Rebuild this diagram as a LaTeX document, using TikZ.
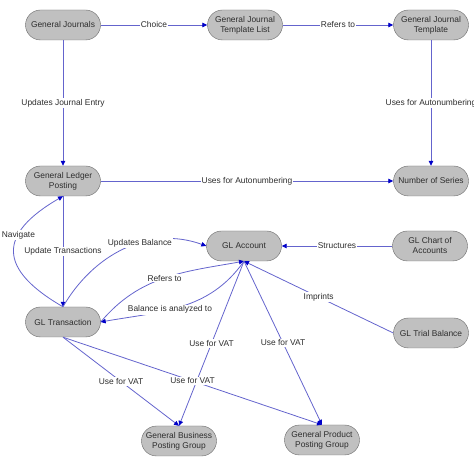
\documentclass[tikz,border=0pt]{standalone}
\usepackage{fontspec}
\setmainfont{Liberation Sans}
\usetikzlibrary{arrows.meta}

\definecolor{linkblue}{RGB}{100,100,205}
\definecolor{tipblue}{RGB}{0,0,200}
\definecolor{boxgray}{RGB}{192,192,192}
\definecolor{rimgray}{RGB}{105,105,105}
\definecolor{textgray}{RGB}{45,45,45}

\begin{document}
\begin{tikzpicture}[
    x=1pt, y=1pt,
    entity/.style={
        draw=rimgray,
        fill=boxgray,
        rounded corners=15pt,
        minimum width=75pt,
        minimum height=30pt,
        align=center,
        inner sep=1pt,
        text=textgray,
        font=\fontsize{8.4}{10}\selectfont,
    },
    link/.style={
        draw=linkblue,
        line width=0.8pt,
        -{Triangle[length=5pt,width=4.5pt,color=tipblue]},
    },
    tag/.style={
        fill=white,
        inner sep=1pt,
        text=textgray,
        font=\fontsize{8.4}{10}\selectfont,
    }
]
    \useasboundingbox (0,0) rectangle (474,474);

    % Entities
    \node[entity] (gj)   at (63,449)  {General Journals};
    \node[entity] (gjtl) at (245,449) {General Journal\\Template List};
    \node[entity] (gjt)  at (431,449) {General Journal\\Template};
    \node[entity] (glp)  at (63,293)  {General Ledger\\Posting};
    \node[entity] (nos)  at (431,293) {Number of Series};
    \node[entity] (gla)  at (244,228) {GL Account};
    \node[entity] (glca) at (430,228) {GL Chart of\\Accounts};
    \node[entity] (glt)  at (63,152)  {GL Transaction};
    \node[entity] (gltb) at (431,141) {GL Trial Balance};
    \node[entity] (gbpg) at (179,33)  {General Business\\Posting Group};
    \node[entity] (gppg) at (322,34)  {General Product\\Posting Group};

    % Journals
    \draw[link] (gj) -- node[tag] {Choice} (gjtl);
    \draw[link] (gjtl) -- node[tag] {Refers to} (gjt);
    \draw[link] (gj) -- node[tag] {Updates Journal Entry} (glp);
    \draw[link] (gjt) -- node[tag] {Uses for Autonumbering} (nos);
    \draw[link] (glp) -- node[tag] {Uses for Autonumbering} (nos);

    % Posting and transactions
    \draw[link] (glp) -- node[tag] {Update Transactions} (glt);
    \draw[link] (glt.north) to[out=150, in=210, looseness=1.75]
        node[tag, pos=0.65] {Navigate} (glp.south);
    \draw[link] (glt.north) to[out=60, in=160]
        node[tag, pos=0.6] {Updates Balance} (gla.west);
    \draw[link] (glt.east) to[out=50, in=190]
        node[tag] {Refers to} (gla.south);
    \draw[link] (gla.south) to[out=235, in=10]
        node[tag, pos=0.58] {Balance is analyzed to} (glt.east);

    % Accounts
    \draw[link] (glca) -- node[tag] {Structures} (gla);
    \draw[link] (gltb.west) -- node[tag] {Imprints} (gla.south);

    % VAT
    \draw[link] (gla.south) -- node[tag] {Use for VAT} (gbpg.north);
    \draw[link] (gla.south) -- node[tag] {Use for VAT} (gppg.north);
    \draw[link] (glt.south) -- node[tag] {Use for VAT} (gbpg.north);
    \draw[link] (glt.south) -- node[tag] {Use for VAT} (gppg.north);
\end{tikzpicture}
\end{document}
